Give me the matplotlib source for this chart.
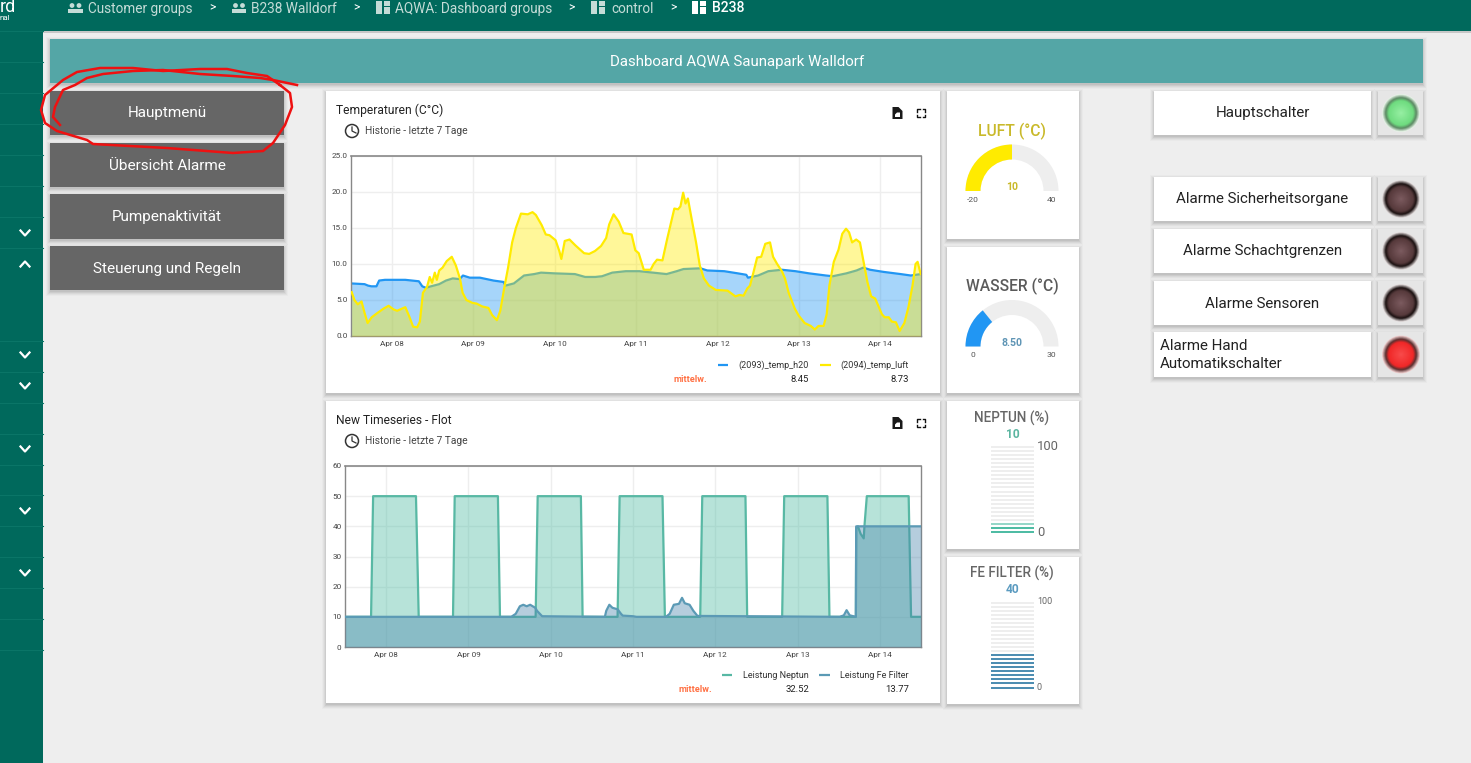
#! /usr/bin/env python

import numpy as np
import matplotlib
matplotlib.use('Agg')
import matplotlib.pyplot as plt
from matplotlib.patches import Rectangle, Circle, Wedge, Polygon

W, H = 1471, 763
plt.rcParams['font.family'] = ['Roboto', 'DejaVu Sans']

# temperature chart, hours since Apr 07 12:00
luft_hours = [0.2, 1, 2, 3.1, 4, 4.9, 6.1, 7.8, 9.6, 11.1, 12.5, 13.6, 16, 17.1, 18.3, 19.5, 20.3, 21.2, 22.4, 23.2,
              23.9, 24.7, 25.3, 26, 27, 28.2, 29.7, 30.9, 32.1, 32.9, 34, 35.8, 37, 38.7, 40.5, 41.6, 43, 44, 45.1,
              46.3, 47.5, 48.6, 50.1, 52.1, 53.5, 54.5, 56.2, 57.4, 58.5, 60.3, 61.4, 62, 63, 64.4, 66.1, 68.7, 70.2,
              71.9, 73.7, 75.2, 76.1, 77.4, 78.9, 80.3, 82.7, 83.8, 84.8, 86.3, 88.3, 89.2, 90.2, 91.8, 93.2, 95.3,
              96.4, 97.1, 97.9, 98.6, 99.3, 100.5, 101.7, 102.8, 104, 105.5, 107.5, 111, 113.3, 114.5, 115.7, 116.8,
              117.6, 118.6, 119.7, 120.9, 122.1, 123.5, 124.4, 125.6, 127, 127.9, 129, 130.8, 132, 133.7, 135.5,
              136.7, 137.8, 139.3, 140.2, 141, 142.3, 143.7, 144.8, 145.9, 146.8, 147.7, 148.9, 150, 151, 152.2,
              153.3, 154.5, 156.5, 157.3, 158.5, 159.4, 160.6, 161.7, 163.1, 164.3, 165.5, 166.4, 167, 167.9]
luft_temp = [6.1, 5.0, 4.4, 4.8, 3.2, 1.8, 2.6, 3.2, 3.8, 4.2, 3.7, 3.5, 4.0, 2.8, 1.3, 1.2, 2.0, 6.0, 6.8, 8.2,
             7.4, 8.8, 7.8, 9.1, 9.5, 10.4, 11.0, 9.8, 8.0, 6.0, 5.0, 4.6, 4.5, 4.1, 3.9, 2.9, 2.2, 3.5, 6.5,
             9.5, 13, 15, 17, 16.9, 17.2, 16.8, 15.4, 14.1, 14.0, 13.3, 11.8, 10.7, 13.2, 13.4, 12.6, 11.5, 11.4,
             11.8, 12.5, 13.6, 15.5, 16.9, 15.9, 14.3, 14.1, 11.9, 11.5, 9.2, 9.2, 10.0, 10.6, 10.5, 13.5, 17.7,
             17.6, 18, 19.9, 18.4, 19.1, 16, 13, 9.8, 8, 7, 6.4, 6.3, 5.5, 5.7, 5.6, 6.6,
             7.0, 8.8, 10.9, 11, 12.8, 13, 11, 10, 9, 8, 6, 3.8, 2.8, 1.8, 1.4,
             0.9, 1.4, 1.4, 3, 7, 10.3, 12, 14.2, 14.9, 14.4, 13, 13.4, 13, 10.5, 7.5,
             5.5, 5.2, 3, 2.6, 2.6, 2.0, 1.9, 0.7, 1.8, 4, 7, 10, 10.3, 8.6]
h2o_hours = [0, 4, 5, 6, 7.5, 8.3, 10, 16, 20, 21, 22, 26, 28, 30, 32, 33, 35, 38, 42, 45, 45.5, 48, 51, 54, 56, 60,
             66, 69, 72, 74, 77, 81, 85, 89, 93, 96, 98, 103, 105, 110, 114, 116.5, 117, 120, 123, 127, 131, 135,
             140, 142, 146, 149, 151, 153, 157, 162, 165, 168]
h2o_temp = [7.3, 7.2, 7.0, 6.9, 6.9, 7.7, 7.8, 7.8, 7.6, 6.9, 6.7, 7.2, 7.7, 8.0, 7.9, 8.4, 8.1, 8.1, 7.7, 7.5, 7.0,
            7.3, 8.4, 8.6, 8.8, 8.7, 8.6, 8.2, 8.2, 8.3, 8.8, 9.0, 9.0, 8.8, 8.6, 9.0, 9.3, 9.4, 9.1, 9.0, 8.7, 8.5,
            8.1, 8.4, 9.0, 9.2, 9.0, 8.7, 8.4, 8.3, 8.7, 9.1, 9.5, 9.2, 8.9, 8.6, 8.4, 8.6]

# pump power chart
neptun_hours = [0, 7.6, 8.2, 20.7, 21.5, 31.5, 32, 44.6, 45.2, 55.6, 56.2, 68.8, 69.3, 79.5, 80.1, 92.6, 93.3, 103.6,
                104.2, 116.8, 117.3, 127.5, 128.1, 140.7, 141.3, 149, 149.1, 149.6, 150.4, 151.3, 151.5, 152.2, 164.4,
                165.1, 168]
neptun_power = [10, 10, 50, 50, 10, 10, 50, 50, 10, 10, 50, 50, 10, 10, 50, 50, 10, 10,
                50, 50, 10, 10, 50, 50, 10, 10, 39.5, 40, 37.5, 36, 40, 50, 50,
                10, 10]
filter_hours = [0, 48.5, 49.8, 51, 52, 53, 54, 55.5, 56, 57.5, 75.8, 76.2, 77.1, 78, 79.5, 80.5, 81, 84, 85, 93.6,
                94.7, 95.9, 97.4, 98.3, 99.1, 100.5, 101.6, 102.8, 144.3, 145.5, 146.3, 147.2, 149, 149.1, 168]
filter_power = [10, 10, 11, 13.5, 14, 13.5, 14, 13, 12, 10.2, 10, 12, 14, 13, 12.5, 11, 10.4, 10.2, 10, 10,
                11, 14, 14.3, 16.3, 14.5, 14, 12, 10.3, 10, 10.5, 12.2, 10.5, 10, 40, 40]

day_ticks = [12, 36, 60, 84, 108, 132, 156]
day_labels = ['Apr 08', 'Apr 09', 'Apr 10', 'Apr 11', 'Apr 12', 'Apr 13', 'Apr 14']

green = '#00695c'
blue = '#2196f3'
yellow = '#ffeb00'
teal = '#4bbba2'
teal_line = '#58b8a4'
steel = '#4682aa'
steel_line = '#5b9ab5'

fig = plt.figure(figsize=(W / 100, H / 100), dpi=100)
fig.patch.set_facecolor('#eeeeee')
ui = fig.add_axes([0, 0, 1, 1])
ui.set_xlim(0, W)
ui.set_ylim(H, 0)
ui.axis('off')


def px(size):
    return size * 0.72


def card(x0, y0, x1, y1, color='white', z=2):
    # soft shadow, then the card
    for grow, alpha in [(4, 0.02), (3, 0.03), (2, 0.04), (1, 0.05), (0, 0.05)]:
        ui.add_patch(Rectangle((x0 - grow, y0 + 2 - grow), x1 - x0 + 2 * grow, y1 - y0 + 2 * grow,
                               fc='black', ec='none', alpha=alpha, zorder=z))
    ui.add_patch(Rectangle((x0, y0), x1 - x0, y1 - y0, fc=color, ec='none', zorder=z))


def label(x, y, s, size=14, color='#222222', ha='center', weight='normal', z=6):
    ui.text(x, y, s, fontsize=px(size), color=color, ha=ha, va='center', fontweight=weight, zorder=z)


def people(x, y, color):
    for dx, r in [(-3.5, 2.4), (3.5, 2.4)]:
        ui.add_patch(Circle((x + dx, y - 2.5), r, fc=color, ec='none', zorder=6))
        ui.add_patch(Rectangle((x + dx - 3.8, y + 1), 7.6, 3.6, fc=color, ec='none', zorder=6))


def tiles(x, y, color):
    ui.add_patch(Rectangle((x - 7, y - 6.5), 6, 13, fc=color, ec='none', zorder=6))
    ui.add_patch(Rectangle((x + 1, y - 6.5), 6, 5.5, fc=color, ec='none', zorder=6))
    ui.add_patch(Rectangle((x + 1, y), 6, 6.5, fc=color, ec='none', zorder=6))


def led(cx, cy, radii, colors):
    # radial shading, outer rings first
    rr = np.linspace(radii[-1], 0.3, 36)
    rgb = np.array([matplotlib.colors.to_rgb(c) for c in colors])
    for r in rr:
        col = [np.interp(r, radii, rgb[:, k]) for k in range(3)]
        ui.add_patch(Circle((cx, cy), r, fc=col, ec='none', zorder=5))


def half_gauge(cx, cy, title, title_color, value, text, vmin, vmax, color, value_color):
    frac = (value - vmin) / (vmax - vmin)
    ui.add_patch(Wedge((cx, cy), 46.5, 180, 360, width=15, fc='#eeeeee', ec='none', zorder=4))
    ui.add_patch(Wedge((cx, cy), 46.5, 180, 180 + 180 * frac, width=15, fc=color, ec='none', zorder=5))
    label(cx, cy - 60, title, 15.6, title_color, weight='medium')
    label(cx + 0.5, cy - 3.5, text, 10.5, value_color, weight='bold')
    label(cx - 39, cy + 8.5, str(vmin), 8.5, '#555555')
    label(cx + 39.5, cy + 8.5, str(vmax), 8.5, '#555555')


def bar_gauge(y_top, title, value, color, value_color, scale_size):
    n = 22
    ys = np.linspace(y_top + 85, y_top, n)
    lit = value / 100 * n
    for i, y in enumerate(ys):
        c, a = ('#eeeeee', 1)
        if i < round(lit):
            c = color
        elif i < lit:
            c, a = color, 0.6
        ui.plot([991, 1034], [y, y], color=c, alpha=a, lw=1.4, solid_capstyle='butt', zorder=5)
    label(1012, y_top - 29, title, 13.5, '#666666', weight='medium')
    label(1012.5, y_top - 13, str(value), 12, value_color, weight='bold')
    label(1037, y_top - 1, '100', scale_size, '#666666', ha='left')
    label(1037, y_top + 85, '0', scale_size, '#666666', ha='left')


def chart_axes(x0, y0, x1, y1, ymax, yticks, yfmt):
    ax = fig.add_axes([x0 / W, 1 - y1 / H, (x1 - x0) / W, (y1 - y0) / H], zorder=3)
    ax.set_xlim(0, 168)
    ax.set_ylim(0, ymax)
    ax.set_xticks(day_ticks)
    ax.set_xticklabels(day_labels)
    ax.set_yticks(yticks)
    ax.set_yticklabels([yfmt % t for t in yticks])
    ax.tick_params(length=0, labelsize=px(8.2), labelcolor='#444444', pad=2.5)
    ax.tick_params(axis='x', pad=3.5)
    ax.grid(color='#eeeeee', lw=1)
    ax.set_axisbelow(True)
    for side in ax.spines:
        ax.spines[side].set_color('#888888')
        ax.spines[side].set_linewidth(1.0)
    ax.spines['top'].set_linewidth(1.2)
    return ax


def series(ax, x, y, fill_color, line_color, z):
    # each series sits on the one before it, fill over the older line
    ax.fill_between(x, y, 0, color=fill_color, alpha=0.4, lw=0, zorder=z)
    ax.plot(x, y, color=line_color, lw=1.6, zorder=z + 0.1, solid_joinstyle='round')


def chart_card(y0, title, names, colors, means, mean_right, swatches, legend_y):
    card(326, y0, 940, y0 + 302)
    label(336, y0 + 19.5, title, 12, '#222222', ha='left')
    label(365, y0 + 39.5, 'Historie - letzte 7 Tage', 10.3, '#444444', ha='left')
    cy = y0 + 40
    ui.add_patch(Circle((352, cy), 6.5, fc='none', ec='#333333', lw=1.1, zorder=6))
    ui.plot([352, 352, 356], [cy - 4, cy, cy + 2], color='#333333', lw=0.9, zorder=6)
    iy = y0 + 22
    ui.add_patch(Polygon([(892.5, iy - 6), (898.5, iy - 6), (902.5, iy - 2), (902.5, iy + 6), (892.5, iy + 6)],
                         fc='#1a1a1a', ec='none', zorder=6))
    ui.add_patch(Polygon([(895, iy + 4), (895, iy + 1.5), (897, iy - 0.5), (900, iy - 0.5), (900, iy + 4)],
                         fc='white', ec='none', zorder=7))
    for sx, sy in [(-1, -1), (1, -1), (-1, 1), (1, 1)]:
        xc, yc = 921.5 + sx * 4, iy + sy * 4
        ui.plot([xc - sx * 2.5, xc, xc], [yc, yc, yc - sy * 2.5], color='#111111', lw=1, zorder=6)
    for right, name, color, swatch, mean in zip((809, 909), names, colors, swatches, means):
        ui.plot(swatch, [legend_y, legend_y], color=color, lw=1.6, solid_capstyle='butt', zorder=6)
        label(right, legend_y, name, 9, '#333333', ha='right')
        label(right, legend_y + 14.5, mean, 9.5, '#222222', ha='right')
    label(mean_right, legend_y + 14.5, 'mittelw.', 9.2, '#ff7043', ha='right', weight='bold')


# page frame
ui.add_patch(Rectangle((0, 0), W, 31, fc=green, ec='none', zorder=1))
ui.add_patch(Rectangle((0, 31), W, 2, fc='#555555', ec='none', alpha=0.25, zorder=1))
ui.add_patch(Rectangle((0, 0), 43, H, fc=green, ec='none', zorder=1.5))
for y in [31, 62, 93, 124, 155, 186, 217, 248, 341, 372, 403, 434, 465, 495, 526, 557, 588, 619, 650]:
    ui.plot([0, 43], [y, y], color='#0a7567', lw=0.8, zorder=1.6)
for y, up in [(233, False), (264, True), (355, False), (386, False), (449, False), (511, False), (573, False)]:
    d = -2.5 if up else 2.5
    ui.plot([20.5, 25, 29.5], [y - d, y + d, y - d], color='white', lw=1.6, zorder=2)
ui.text(0, 7, 'rd', fontsize=px(18), color='white', ha='left', va='center', zorder=2)
ui.text(0, 18, 'nal', fontsize=px(8), color='white', ha='left', va='center', zorder=2)

# breadcrumb
crumb = '#c4dcd7'
people(75.5, 8, crumb)
label(88, 9, 'Customer groups', 13.6, crumb, ha='left')
label(212, 8, '>', 12, 'white')
people(239, 8, crumb)
label(251, 9, 'B238 Walldorf', 13.6, crumb, ha='left')
label(356, 8, '>', 12, 'white')
tiles(383, 7, crumb)
label(395, 9, 'AQWA: Dashboard groups', 13.6, crumb, ha='left')
label(571, 8, '>', 12, 'white')
tiles(598.5, 7, crumb)
label(611, 9, 'control', 13.6, crumb, ha='left')
label(673, 8, '>', 12, 'white')
tiles(699.5, 7, 'white')
label(712, 8.5, 'B238', 14, 'white', ha='left', weight='medium')

# banner and buttons
card(50, 39, 1423, 83, '#54a6a6')
label(737, 62, 'Dashboard AQWA Saunapark Walldorf', 15, 'white')
for y0, y1, s in [(91, 135, 'Hauptmenü'), (143, 187, 'Übersicht Alarme'), (194, 239, 'Pumpenaktivität'),
                  (246, 290, 'Steuerung und Regeln')]:
    card(50, y0, 284, y1, '#666666')
    label(167, (y0 + y1) / 2 + 0.5, s, 15.2, 'white')

# hand drawn marking
mark_x = [60, 53, 55, 63, 75, 87, 103, 133, 163, 200, 233, 260, 273, 297]
mark_y = [125, 117, 107, 90, 85, 78, 74, 71, 70, 74, 76, 78, 80, 85]
mark2_x = [280, 290, 292, 285, 273, 263, 233, 167, 93, 87, 57, 45, 41, 45, 63, 77, 100, 133, 163, 200, 227, 247, 267, 280]
mark2_y = [85, 93, 107, 125, 143, 151, 153, 148, 144, 140, 131, 123, 110, 95, 80, 72, 68, 68, 71, 69, 69, 73, 76, 85]
ui.plot(mark_x, mark_y, color='#ee1111', lw=1.8, zorder=8)
ui.plot(mark2_x, mark2_y, color='#ee1111', lw=1.8, zorder=8)

# chart cards
chart_card(91, 'Temperaturen (C°C)', ['(2093)_temp_h20', '(2094)_temp_luft'], [blue, yellow], ['8.45', '8.73'], 707,
           [(718, 728), (820, 831)], 365)
chart_card(401, 'New Timeseries - Flot', ['Leistung Neptun', 'Leistung Fe Filter'], [teal_line, steel_line], ['32.52', '13.77'], 712,
           [(722, 732), (819, 830)], 675)

ax1 = chart_axes(351, 156, 921, 336, 25, [0, 5, 10, 15, 20, 25], '%.1f')
series(ax1, h2o_hours, h2o_temp, blue, blue, 2)
series(ax1, luft_hours, luft_temp, yellow, yellow, 3)

ax2 = chart_axes(345, 466, 921, 647, 60, [0, 10, 20, 30, 40, 50, 60], '%d')
series(ax2, neptun_hours, neptun_power, teal, teal_line, 2)
series(ax2, filter_hours, filter_power, steel, steel_line, 3)

# gauge cards
card(947, 91, 1079, 239)
card(947, 247, 1079, 393)
card(947, 401, 1079, 549)
card(947, 557, 1079, 704)
half_gauge(1012, 191, 'LUFT (°C)', '#c9b92a', 10, '10', -20, 40, yellow, '#c9b92a')
half_gauge(1012, 346.5, 'WASSER (°C)', '#5a5a5a', 8.5, '8.50', 0, 30, blue, '#5f95b5')
bar_gauge(447, 'NEPTUN (%)', 10, teal, '#5bb5a0', 13)
bar_gauge(602.5, 'FE FILTER (%)', 40, '#4a8bb0', '#5b9bc0', 9)

# switch column
switches = [(91, 135, 'Hauptschalter', 'green'), (177, 221, 'Alarme Sicherheitsorgane', 'dark'),
            (229, 273, 'Alarme Schachtgrenzen', 'dark'), (281, 325, 'Alarme Sensoren', 'dark'),
            (332, 377, None, 'red')]
led_colors = {
    'green': ['#98f0a4', '#6fdc80', '#5c8a64', '#eaf5ea'],
    'dark': ['#7d5c60', '#573a3c', '#1c1212', '#e6e0e0'],
    'red': ['#f84c4c', '#f02828', '#5a3030', '#f0d0d0'],
}
for y0, y1, s, state in switches:
    card(1154, y0, 1371, y1)
    card(1378, y0, 1423, y1, '#e6e6e6')
    if s:
        label(1262.5, (y0 + y1) / 2 + 0.5, s, 15.1, '#222222')
    led(1401, (y0 + y1) / 2, [0, 12.5, 15.5, 19], led_colors[state])
label(1160, 345.5, 'Alarme Hand', 15.1, '#222222', ha='left')
label(1160, 363.5, 'Automatikschalter', 15.1, '#222222', ha='left')

fig.savefig('out.png', dpi=100)
